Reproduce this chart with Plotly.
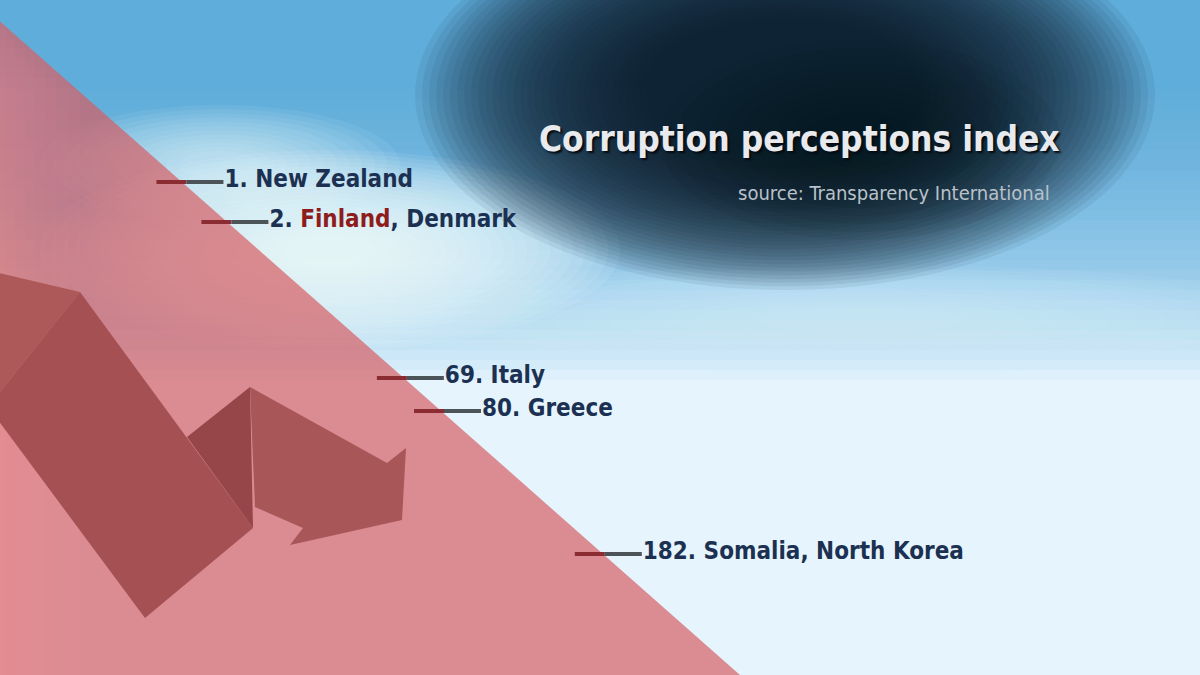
import plotly.graph_objects as go

# Ranking from the infographic
ranks = [1, 2, 69, 80, 182]
countries = ["New Zealand", "Finland, Denmark", "Italy", "Greece", "Somalia, North Korea"]
highlight = "Finland"

title = "Corruption perceptions index"
source = "source: Transparency International"

# vertical placement of each label row (pixels from top)
rows_y = [181, 221, 377, 410, 553]

W, H = 1200, 675
NAVY = "#1c3152"
RED_TXT = "#8e1c1c"
FONT = "Liberation Sans Narrow, Arial Narrow, DejaVu Sans Condensed, Roboto, sans-serif"


def edge_x(y):
    # the diagonal edge of the red triangle
    return (y - 17) * 740 / 658


def glow(cx, cy, rx, ry, color, n, shrink):
    # stack of ellipses that fakes a soft radial gradient
    out = []
    for i in range(n):
        s = 1 - i * shrink
        out.append(dict(type="circle", x0=cx - rx * s, x1=cx + rx * s,
                        y0=cy - ry * s, y1=cy + ry * s, layer="below",
                        fillcolor=color, line_width=0))
    return out


shapes = []

# ---- background -----------------------------------------------------------
shapes.append(dict(type="rect", x0=0, x1=W, y0=0, y1=H, layer="below",
                   fillcolor="#e6f5fd", line_width=0))
# blue fading down from the top
for k in range(30):
    h = 380 - k * 10
    shapes.append(dict(type="rect", x0=-10, x1=W + 10, y0=-10, y1=h, layer="below",
                       fillcolor="rgba(72,155,222,0.055)", line_width=0))
# bright glow along the diagonal
shapes += glow(330, 250, 290, 100, "rgba(245,251,255,0.09)", 22, 0.04)
shapes += glow(220, 165, 180, 60, "rgba(238,249,255,0.07)", 12, 0.07)
# light horizontal band to the right
shapes += glow(860, 320, 480, 55, "rgba(210,235,250,0.07)", 14, 0.06)
# dark blob in the upper right
shapes += glow(785, 95, 370, 195, "rgba(8,22,36,0.07)", 34, 0.019)
shapes += glow(860, 140, 200, 100, "rgba(6,16,26,0.05)", 10, 0.08)

# ---- red triangle ----------------------------------------------------------
shapes.append(dict(type="path", path=f"M -5 17 L 740 {H} L -5 {H} Z", layer="below",
                   fillcolor="rgba(214,94,100,0.70)", line_width=0))
# pinker tint along the left border
for x1 in [80, 68, 56, 45, 35, 25, 15, 6]:
    yt = 17 + x1 * 658 / 740
    shapes.append(dict(type="path", path=f"M -5 {yt} L {x1} {yt} L {x1} {H} L -5 {H} Z",
                       layer="below", fillcolor="rgba(245,160,160,0.045)", line_width=0))

# ---- folded arrow ----------------------------------------------------------
shapes += [
    dict(type="path", path="M -5 272 L 80 292 L -5 398 Z", layer="below",
         fillcolor="#ad5859", line_width=0),
    dict(type="path", path="M -5 398 L 80 292 L 253 528 L 145 618 L -5 416 Z", layer="below",
         fillcolor="#a55053", line_width=0),
    dict(type="path", path="M 187 437 L 250 387 L 253 528 Z", layer="below",
         fillcolor="#964548", line_width=0),
    dict(type="path",
         path="M 250 387 L 387 463 L 406 448 L 402 520 L 290 545 L 303 528 L 255 507 Z",
         layer="below", fillcolor="#a85657", line_width=0),
]

fig = go.Figure()

# connector lines: red inside the triangle, grey outside
red_x, red_y, grey_x, grey_y = [], [], [], []
for y in rows_y:
    e = edge_x(y)
    red_x += [e - 28, e + 2, None]
    red_y += [y + 1, y + 1, None]
    grey_x += [e + 2, e + 39, None]
    grey_y += [y + 1, y + 1, None]

fig.add_trace(go.Scatter(x=red_x, y=red_y, mode="lines", hoverinfo="skip",
                         line=dict(color="#8a2c32", width=4)))
fig.add_trace(go.Scatter(x=grey_x, y=grey_y, mode="lines", hoverinfo="skip",
                         line=dict(color="#4c5459", width=4)))

labels = []
for r, c in zip(ranks, countries):
    txt = f"{r}. {c}"
    if highlight in c:
        txt = txt.replace(highlight, f"<span style='color:{RED_TXT}'>{highlight}</span>")
    labels.append(txt)

fig.add_trace(go.Scatter(
    x=[edge_x(y) + 40 for y in rows_y], y=rows_y, text=labels,
    mode="text", textposition="middle right", hoverinfo="skip",
    textfont=dict(family=FONT, size=24, color=NAVY, weight="bold"),
))

fig.add_annotation(x=1062, y=139, xref="x", yref="y", text=title, showarrow=False,
                   xanchor="right", yanchor="middle",
                   font=dict(family=FONT, size=35, color="#e8eaee",
                             weight="bold", shadow="2px 2px 2px #050a10"))
fig.add_annotation(x=1052, y=193, xref="x", yref="y", text=source, showarrow=False,
                   xanchor="right", yanchor="middle",
                   font=dict(family=FONT, size=20, color="#b9c1c9"))

fig.update_layout(
    width=W, height=H,
    margin=dict(l=0, r=0, t=0, b=0),
    showlegend=False,
    paper_bgcolor="#e6f5fd", plot_bgcolor="#e6f5fd",
    shapes=shapes,
    xaxis=dict(range=[0, W], visible=False, fixedrange=True),
    yaxis=dict(range=[H, 0], visible=False, fixedrange=True),
)

fig.write_html("out.html", config={"displayModeBar": False},
               post_script="document.body.style.margin='0';")
